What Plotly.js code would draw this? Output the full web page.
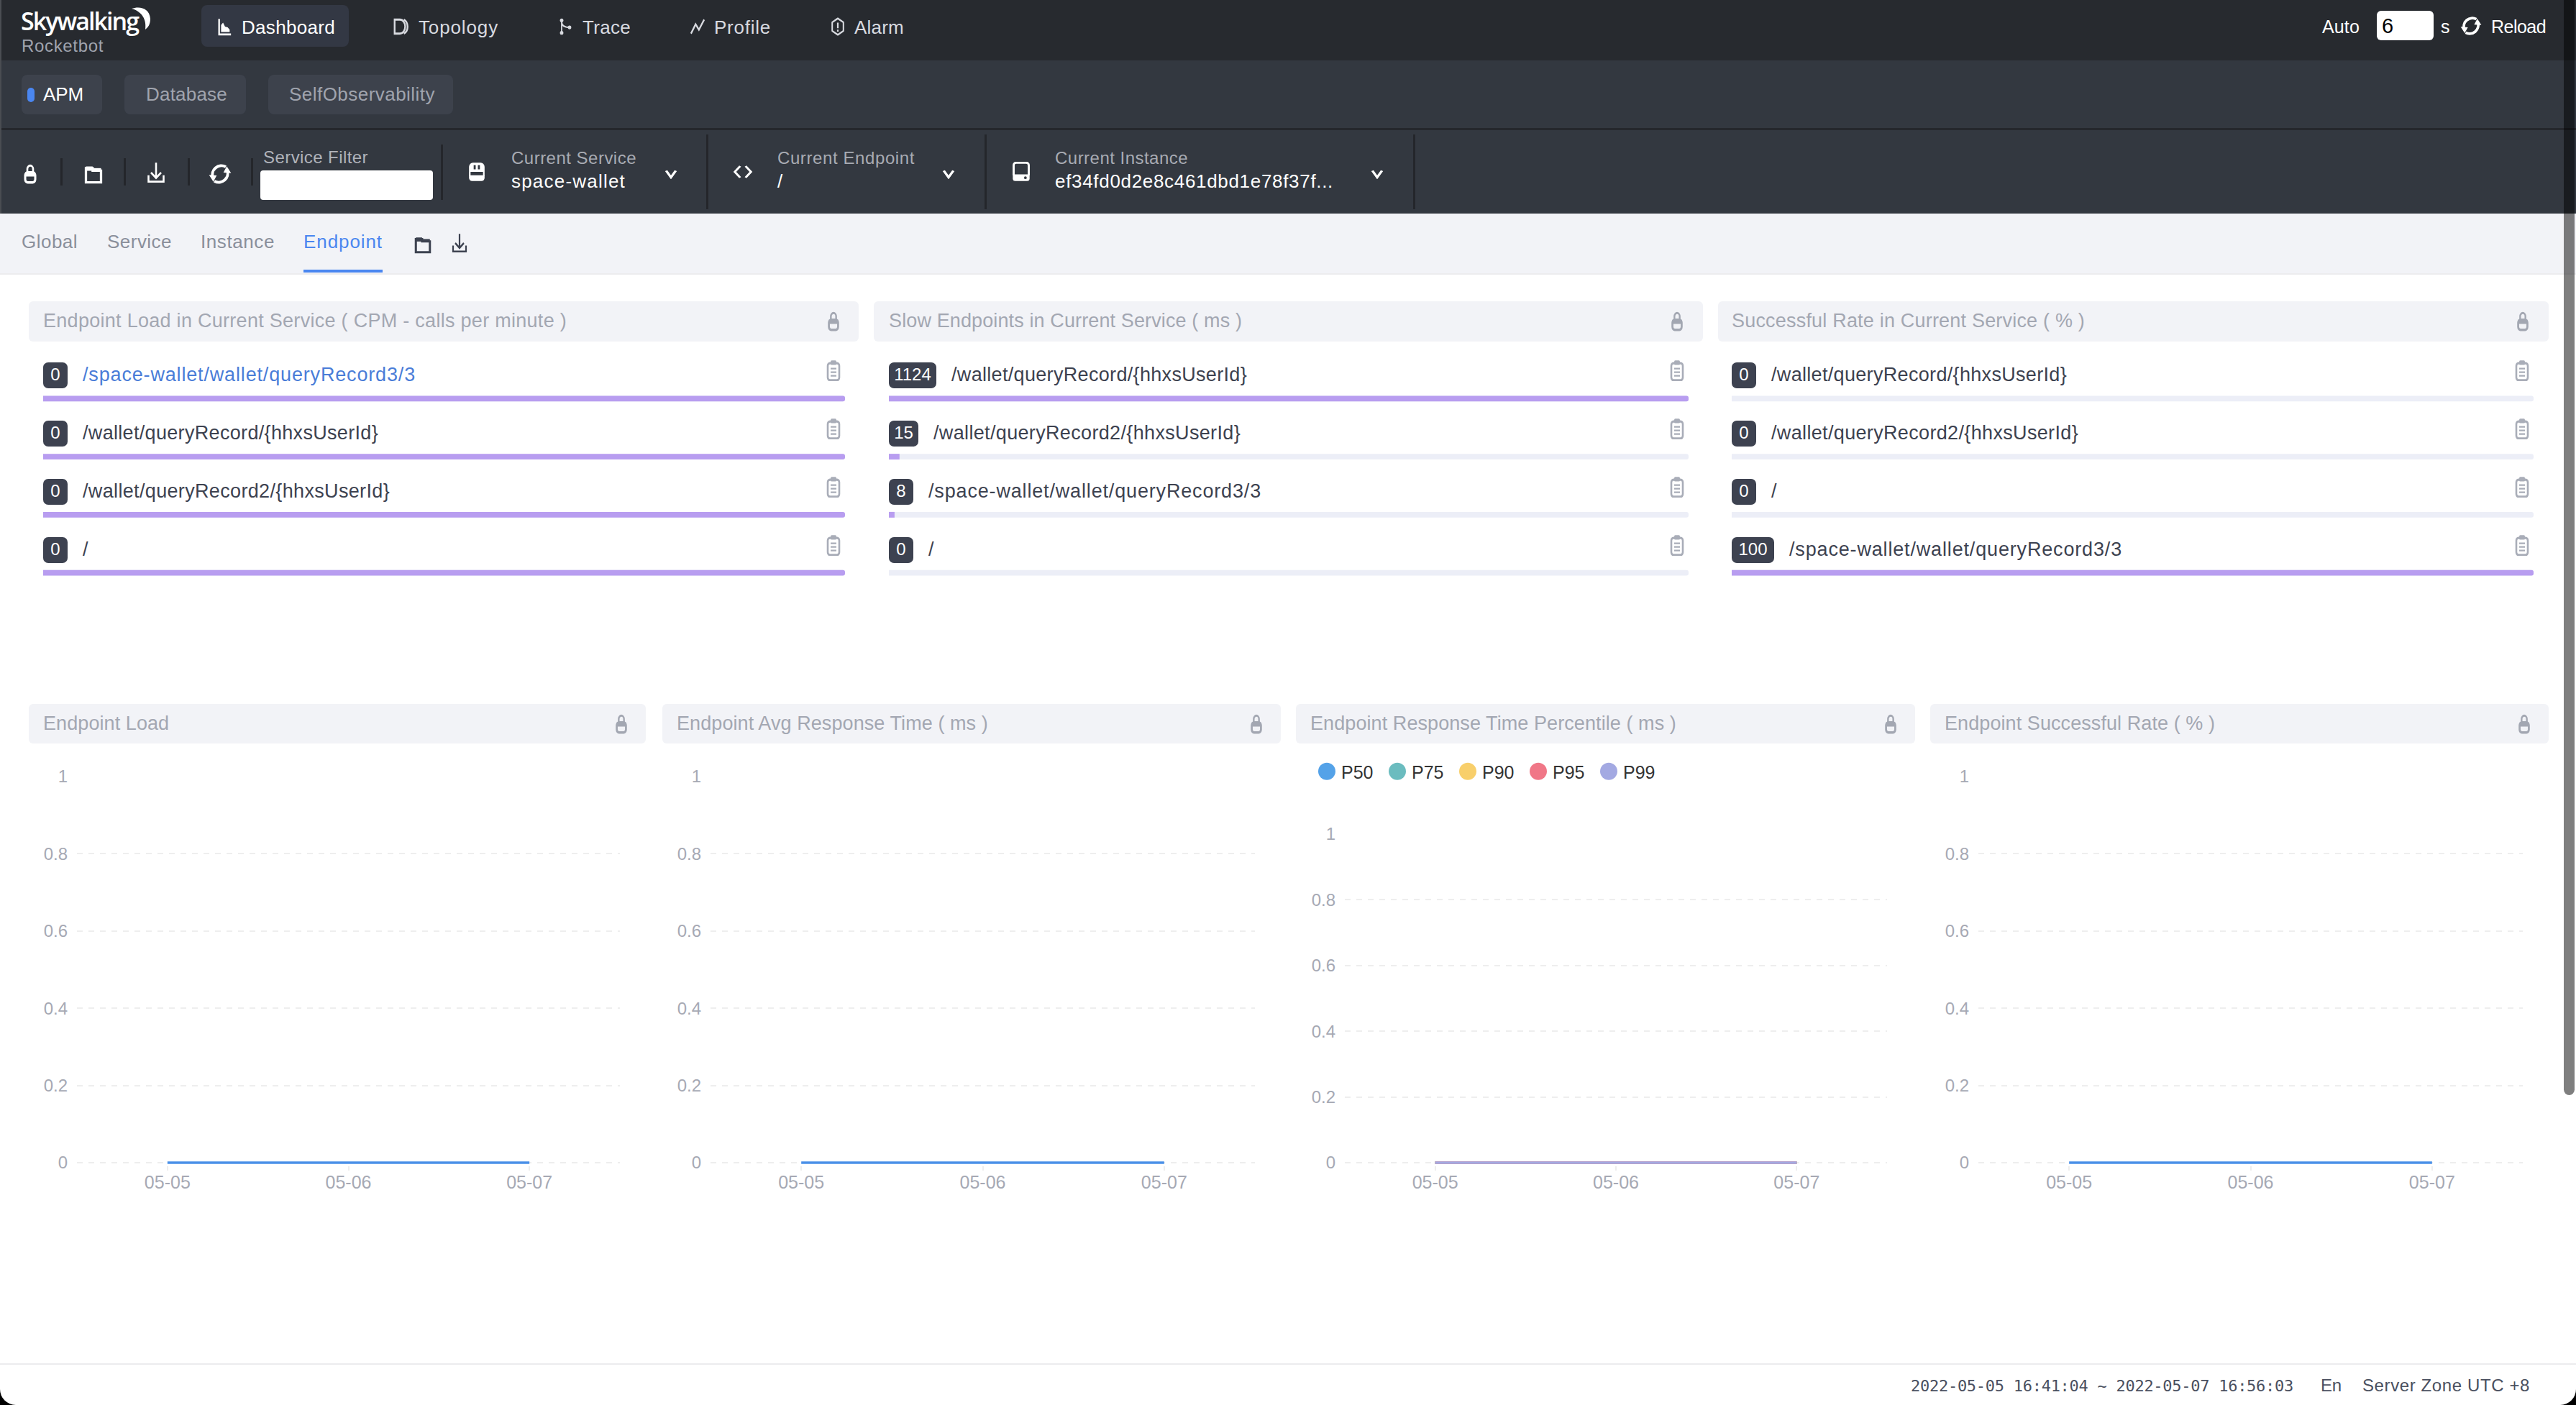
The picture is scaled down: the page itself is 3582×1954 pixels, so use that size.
<!DOCTYPE html>
<html>
<head>
<meta charset="utf-8">
<title>SkyWalking Rocketbot</title>
<script src="https://cdn.plot.ly/plotly-3.0.1.min.js"></script>
<style>
html,body{margin:0;padding:0;background:#000;width:3582px;height:1954px;overflow:hidden}
#page{position:absolute;left:0;top:0;width:3582px;height:1954px;background:#fff;overflow:hidden;border-radius:0 0 22px 22px;font-family:"Liberation Sans",sans-serif}
.b{position:absolute}
.t{position:absolute;white-space:nowrap}
.c{position:absolute}
</style>
</head>
<body>
<div id="page"></div>
<script>
// ---------- data ----------
const navItems = ["Dashboard","Topology","Trace","Profile","Alarm"];
const groupTabs = ["APM","Database","SelfObservability"];
const pageTabs = ["Global","Service","Instance","Endpoint"];
const currentService = "space-wallet";
const currentEndpoint = "/";
const currentInstance = "ef34fd0d2e8c461dbd1e78f37f...";
const timeRange = "2022-05-05 16:41:04 ~ 2022-05-07 16:56:03";

const loadTitle = "Endpoint Load in Current Service ( CPM - calls per minute )";
const loadNames = ["/space-wallet/wallet/queryRecord3/3","/wallet/queryRecord/{hhxsUserId}","/wallet/queryRecord2/{hhxsUserId}","/"];
const loadValues = [0,0,0,0];
const loadBarPercent = [100,100,100,100];

const slowTitle = "Slow Endpoints in Current Service ( ms )";
const slowNames = ["/wallet/queryRecord/{hhxsUserId}","/wallet/queryRecord2/{hhxsUserId}","/space-wallet/wallet/queryRecord3/3","/"];
const slowValues = [1124,15,8,0];
const slowBarPercent = [100,1.33,0.71,0];

const rateTitle = "Successful Rate in Current Service ( % )";
const rateNames = ["/wallet/queryRecord/{hhxsUserId}","/wallet/queryRecord2/{hhxsUserId}","/","/space-wallet/wallet/queryRecord3/3"];
const rateValues = [0,0,0,100];
const rateBarPercent = [0,0,0,100];

const days = ["05-05","05-06","05-07"];
const yTicks = [0,0.2,0.4,0.6,0.8,1];
const yTickLabels = ["0","0.2","0.4","0.6","0.8","1"];
const endpointLoad = [0,0,0];
const endpointAvgResponse = [0,0,0];
const endpointSuccessRate = [0,0,0];
const p50 = [0,0,0];
const p75 = [0,0,0];
const p90 = [0,0,0];
const p95 = [0,0,0];
const p99 = [0,0,0];
const percentileNames = ["P50","P75","P90","P95","P99"];
const percentileColors = ["#54a2e8","#6bbcbf","#f8cf6b","#f07787","#a3a9e2"];

// ---------- chrome helpers ----------
const page = document.getElementById('page');
const FONT = '"Liberation Sans",sans-serif';
const meas = document.createElement('canvas').getContext('2d');
function box(x,y,w,h,bg,r){
  const d=document.createElement('div');d.className='b';
  d.style.cssText=`left:${x}px;top:${y}px;width:${w}px;height:${h}px;background:${bg};border-radius:${r||0}px`;
  page.appendChild(d);return d;
}
function T(x,yc,s,size,color,o){
  o=o||{};
  const fam=o.family||FONT,wt=o.weight||'normal';
  const d=document.createElement('div');d.className='t';d.textContent=s;
  let ls=0;
  if(o.w){meas.font=`${wt} ${size}px ${fam}`;ls=(o.w-meas.measureText(s).width)/Math.max(1,s.length);}
  if(o.ls!==undefined)ls=o.ls;
  const lh=Math.round(size*(o.lh||1.4));
  d.style.cssText=`left:${x}px;top:${yc-lh/2}px;line-height:${lh}px;font-size:${size}px;color:${color};font-family:${fam};font-weight:${wt};letter-spacing:${ls}px`;
  if(o.center){d.style.transform='translateX(-50%)';}
  page.appendChild(d);return d;
}
const ICONS={
 lock:c=>`<rect x="5" y="10" width="14" height="12" rx="3.5" fill="none" stroke="${c}" stroke-width="3"/><rect x="5" y="10" width="14" height="5" fill="${c}"/><path d="M8 10V6a4 4 0 0 1 8 0v4" fill="none" stroke="${c}" stroke-width="2.6"/>`,
 folder:c=>`<path d="M3 5h8v3h10v14H3z" fill="none" stroke="${c}" stroke-width="2.8"/><path d="M3 3h8v5H3z" fill="${c}"/><rect x="3" y="5" width="18" height="3" fill="${c}"/>`,
 download:c=>`<path d="M12 1v17M6 12l6 6 6-6M3 15v7h18v-7" fill="none" stroke="${c}" stroke-width="2.2"/>`,
 reload:c=>`<path d="M18 4.5A9.5 9.5 0 0 0 4.5 16M6 19.5A9.5 9.5 0 0 0 19.5 8" fill="none" stroke="${c}" stroke-width="3"/><path d="M0.5 13l8 0.5-3.5 6.5zM23.5 11l-8-0.5 3.5-6.5z" fill="${c}"/>`,
 service:c=>`<path d="M7 1h10a5 5 0 0 1 5 5v6H2V6a5 5 0 0 1 5-5z" fill="${c}"/><rect x="8" y="4" width="2.6" height="5" fill="#333840"/><rect x="13.4" y="4" width="2.6" height="5" fill="#333840"/><path d="M2 16h20v3a4 4 0 0 1-4 4H6a4 4 0 0 1-4-4z" fill="${c}"/><path d="M3 12v5M21 12v5" stroke="${c}" stroke-width="2"/>`,
 code:c=>`<path d="M9 4l-6 8 6 8M15 4l6 8-6 8" fill="none" stroke="${c}" stroke-width="2.6"/>`,
 instance:c=>`<path d="M3 16V4a3 3 0 0 1 3-3h12a3 3 0 0 1 3 3v12" fill="none" stroke="${c}" stroke-width="2.5"/><path d="M2 15h20v5a3 3 0 0 1-3 3H5a3 3 0 0 1-3-3z" fill="${c}"/><circle cx="17" cy="19" r="1.6" fill="#333840"/>`,
 chevron:c=>`<path d="M4 4l8 16 8-16" fill="none" stroke="${c}" stroke-width="4.2"/>`,
 clipboard:c=>`<rect x="4" y="4" width="16" height="19" rx="3" fill="none" stroke="${c}" stroke-width="2.6"/><rect x="8" y="1" width="8" height="5" rx="1.5" fill="${c}"/><path d="M8 10h8M8 14h8M8 18h8" stroke="${c}" stroke-width="1.8"/>`,
 bars:c=>`<path d="M4 2v20h18" fill="none" stroke="${c}" stroke-width="2.5"/><path d="M7 19V10l3-3 3 5 4 1 3 3v3z" fill="${c}"/>`,
 topo:c=>`<path d="M3 3h8a8 9 0 0 1 0 18H3z" fill="none" stroke="${c}" stroke-width="2.6"/><path d="M17 3a10 10 0 0 1 0 18" fill="none" stroke="${c}" stroke-width="2.6"/>`,
 trace:c=>`<circle cx="7" cy="4" r="2.4" fill="${c}"/><circle cx="7" cy="20" r="2.4" fill="${c}"/><circle cx="18" cy="13" r="2.4" fill="${c}"/><path d="M7 4v16M7 6c0 6 6 7 11 7" fill="none" stroke="${c}" stroke-width="1.8"/>`,
 profile:c=>`<path d="M2 21l7-12 5 7 8-13" fill="none" stroke="${c}" stroke-width="2.4"/>`,
 alarm:c=>`<path d="M12 1.5l8.5 5v11l-8.5 5-8.5-5v-11z" fill="none" stroke="${c}" stroke-width="2.2" stroke-linejoin="round"/><path d="M12 7v7M12 16v2.5" stroke="${c}" stroke-width="2.4"/>`
};
function icon(name,cx,cy,w,h,color){
  const d=document.createElement('div');d.className='b';
  d.style.cssText=`left:${cx-w/2}px;top:${cy-h/2}px;width:${w}px;height:${h}px`;
  d.innerHTML=`<svg width="${w}" height="${h}" viewBox="0 0 24 24" preserveAspectRatio="none" xmlns="http://www.w3.org/2000/svg">${ICONS[name](color)}</svg>`;
  page.appendChild(d);
}

// ---------- header bands ----------
box(0,0,3582,84,'#272a2f');
box(0,84,3582,94,'#333840');
box(0,178,3582,3,'#25272c');
box(0,181,3582,116,'#333840');
box(0,297,3582,83,'#f2f3f7');
box(0,380,3582,2,'#ececee');
box(0,0,2,297,'#4a4d52');

// logo
T(29,29,"Skywalking",34,'#ffffff',{w:163,family:'"Open Sans",sans-serif',weight:600,lh:1.05});
const moon=document.createElement('div');moon.className='b';
moon.style.cssText='left:180px;top:8px;width:32px;height:34px';
moon.innerHTML='<svg width="32" height="34" viewBox="0 0 32 34"><path d="M3 4C14 0 28 3 29 18C29 26 26 30 22 33C24 20 18 8 3 4Z" fill="#fff"/></svg>';
page.appendChild(moon);
T(30,63,"Rocketbot",24,'#a0a4ae',{w:114,lh:1.05});

// nav
box(280,7,205,58,'#333844',8);
const navLeft=[336,582,810,993,1188], navW=[130,111,67,79,69], navIcon=['bars','topo','trace','profile','alarm'], navIconX=[312,557,786,970,1165];
navItems.forEach((n,i)=>{
  T(navLeft[i],38,n,26,i==0?'#ffffff':'#d8dae0',{w:navW[i]});
  icon(navIcon[i],navIconX[i],37,i==2?24:22,26,i==0?'#ffffff':'#d8dae0');
});
T(3229,37,"Auto",25,'#ffffff',{w:52});
box(3305,15,79,41,'#ffffff',6);
T(3312,36,"6",29,'#000000');
T(3394,37,"s",25,'#ffffff');
icon('reload',3436,36,30,30,'#ffffff');
T(3464,37,"Reload",25,'#ffffff',{w:76});

// group tabs
const grpX=[30,173,373],grpW=[112,169,257],grpTx=[60,203,402],grpTw=[56,113,203];
groupTabs.forEach((n,i)=>{
  box(grpX[i],104,grpW[i],55,'#3d424c',8);
  T(grpTx[i],131,n,26,i==0?'#ffffff':'#a0a4ae',{w:grpTw[i]});
});
box(38,122,10,20,'#4a86f0',5);

// toolbar
[[85,220,38],[173,220,38],[262,220,38],[350,220,38],[614,201,77],[983,187,104],[1370,187,104],[1966,187,104]].forEach(s=>box(s[0]-1.5,s[1],3,s[2],'#24262b'));
icon('lock',42,242,24,28,'#ffffff');
icon('folder',130,242,28,28,'#ffffff');
icon('download',217,240,28,30,'#ffffff');
icon('reload',306,242,32,32,'#ffffff');
T(366,219,"Service Filter",24,'#b0b3ba',{w:146});
box(362,237,240,41,'#ffffff',4);
icon('service',663,239,26,28,'#ffffff');
T(711,220,"Current Service",24,'#a8abb3',{w:174});
T(711,252,currentService,26,'#ffffff',{w:159});
icon('chevron',933,242,20,14,'#ffffff');
icon('code',1033,239,30,24,'#ffffff');
T(1081,220,"Current Endpoint",24,'#a8abb3',{w:191});
T(1081,252,currentEndpoint,26,'#ffffff');
icon('chevron',1319,242,20,14,'#ffffff');
icon('instance',1420,239,28,28,'#ffffff');
T(1467,220,"Current Instance",24,'#a8abb3',{w:185});
T(1467,252,currentInstance,26,'#ffffff',{w:387});
icon('chevron',1915,242,20,14,'#ffffff');

// page tabs
const tabX=[30,149,279,422],tabW=[78,90,103,110];
pageTabs.forEach((n,i)=>T(tabX[i],336,n,26,i==3?'#4a86f0':'#8a8f9b',{w:tabW[i]}));
box(422,375,110,4,'#4a86f0');
icon('folder',588,340,26,26,'#3d4250');
icon('download',639,338,24,28,'#3d4250');

// ---------- top lists ----------
const listPanels=[
 {x0:40,x1:1194,bx0:60,bx1:1175,title:loadTitle,titleW:728,names:loadNames,vals:loadValues,pct:loadBarPercent,id:'list1',lock:1159},
 {x0:1215,x1:2368,bx0:1236,bx1:2348,title:slowTitle,titleW:491,names:slowNames,vals:slowValues,pct:slowBarPercent,id:'list2',lock:2332},
 {x0:2389,x1:3544,bx0:2408,bx1:3523,title:rateTitle,titleW:491,names:rateNames,vals:rateValues,pct:rateBarPercent,id:'list3',lock:3508}
];
const rowY=[522,603,684,765], badgeW={'0':34,'8':34,'15':41,'100':59,'1124':66};
const nameW={[loadNames[0]]:463,[loadNames[1]]:411,[loadNames[2]]:427};
listPanels.forEach(p=>{
  box(p.x0,419,p.x1-p.x0,56,'#f2f3f7',6);
  T(p.bx0,446,p.title,27,'#a3a7b2',{w:p.titleW});
  icon('lock',p.lock,447,22,28,'#a3a7b2');
  const div=document.createElement('div');div.className='c';div.id=p.id;
  div.style.cssText=`left:${p.x0}px;top:500px;width:${p.x1-p.x0}px;height:340px`;
  page.appendChild(div);
  p.names.forEach((n,i)=>{
    const bw=badgeW[String(p.vals[i])];
    box(p.bx0,rowY[i]-18,bw,36,'#3d4250',7);
    T(p.bx0+bw/2,rowY[i]-1,String(p.vals[i]),24,'#ffffff',{center:true});
    const o=nameW[n]?{w:nameW[n]}:{};
    T(p.bx0+bw+21,rowY[i]-1,n,27,(p.id=='list1'&&i==0)?'#4a7dd8':'#3d4250',o);
    icon('clipboard',p.bx1-16,rowY[i]-7,24,30,'#a9adb8');
  });
  const idx=p.names.map((_,i)=>i);
  Plotly.newPlot(div,[
    {type:'bar',orientation:'h',y:idx,x:idx.map(()=>100),width:8/81,marker:{color:'#eceef7',cornerradius:4},hoverinfo:'skip',showlegend:false},
    {type:'bar',orientation:'h',y:idx,x:p.pct,width:8/81,marker:{color:'#b89df0',cornerradius:4},hoverinfo:'skip',showlegend:false}
  ],{
    width:p.x1-p.x0,height:340,barmode:'overlay',showlegend:false,
    margin:{l:p.bx0-p.x0,r:p.x1-p.bx1,t:13.5,b:2.5,pad:0},
    paper_bgcolor:'rgba(0,0,0,0)',plot_bgcolor:'rgba(0,0,0,0)',
    xaxis:{range:[0,100],visible:false,fixedrange:true},
    yaxis:{range:[3.5,-0.5],visible:false,fixedrange:true}
  },{staticPlot:true,displayModeBar:false});
});

// ---------- line charts ----------
const charts=[
 {x0:40,x1:898,title:"Endpoint Load",id:'c1',plotTop:1080,series:[{name:'Load',y:endpointLoad,c:'#4a90e8'}]},
 {x0:921,x1:1781,title:"Endpoint Avg Response Time ( ms )",id:'c2',plotTop:1080,series:[{name:'Avg',y:endpointAvgResponse,c:'#4a90e8'}]},
 {x0:1802,x1:2663,title:"Endpoint Response Time Percentile ( ms )",id:'c3',plotTop:1160,legend:true,
   series:[p50,p75,p90,p95,p99].map((y,i)=>({name:percentileNames[i],y:y,c:percentileColors[i]}))},
 {x0:2684,x1:3544,title:"Endpoint Successful Rate ( % )",id:'c4',plotTop:1080,series:[{name:'Rate',y:endpointSuccessRate,c:'#4a90e8'}]}
];
const DIVTOP=1040, DIVH=650, AXIS0=1617, BELOW=4;
charts.forEach(ch=>{
  box(ch.x0,979,ch.x1-ch.x0,55,'#f2f3f7',6);
  T(ch.x0+20,1006,ch.title,27,'#a3a7b2',{ls:0.08});
  icon('lock',ch.x1-34,1007,22,28,'#a3a7b2');
  const div=document.createElement('div');div.className='c';div.id=ch.id;
  const W=ch.x1-ch.x0;
  div.style.cssText=`left:${ch.x0}px;top:${DIVTOP}px;width:${W}px;height:${DIVH}px`;
  page.appendChild(div);
  const traces=ch.series.map(s=>({type:'scatter',mode:'lines',x:days,y:s.y,name:s.name,
     line:{color:s.c,width:3.5},hoverinfo:'skip',showlegend:false}));
  const l=ch.legend?68:67, r=ch.legend?39:36;
  const plotH=AXIS0-ch.plotTop;
  const layout={
    width:W,height:DIVH,showlegend:!!ch.legend,
    margin:{l:l,r:r,t:ch.plotTop-DIVTOP,b:DIVTOP+DIVH-AXIS0-BELOW,pad:0},
    paper_bgcolor:'rgba(0,0,0,0)',plot_bgcolor:'rgba(0,0,0,0)',
    font:{family:FONT},
    xaxis:{type:'category',categoryorder:'array',categoryarray:days,range:[-0.5,2.5],fixedrange:true,
      showgrid:false,zeroline:false,showline:false,ticks:'outside',ticklen:6,tickwidth:2,tickcolor:'#eeeeee',
      tickfont:{size:25,color:'#a6a9b4',family:FONT},ticklabelstandoff:-5},
    yaxis:{range:[-BELOW/plotH,1],fixedrange:true,tickmode:'array',tickvals:yTicks,ticktext:yTickLabels,
      showgrid:true,gridcolor:'#eeeeee',gridwidth:2,griddash:'8px,8px',zeroline:false,showline:false,ticks:'',
      tickfont:{size:24,color:'#a6a9b4',family:FONT},ticklabelstandoff:12}
  };
  if(ch.legend){
    percentileNames.forEach((n,i)=>traces.push({type:'scatter',mode:'markers',x:[null],y:[null],name:n,
      marker:{color:percentileColors[i],size:16,symbol:'circle'},hoverinfo:'skip',showlegend:true}));
    layout.legend={orientation:'h',xref:'container',yref:'container',x:(1825-ch.x0)/W,xanchor:'left',y:1-10/DIVH,yanchor:'top',
      font:{size:25,color:'#333333',family:FONT},entrywidth:53,entrywidthmode:'pixels',itemwidth:30,bgcolor:'rgba(0,0,0,0)',traceorder:'normal'};
  }
  Plotly.newPlot(div,traces,layout,{staticPlot:true,displayModeBar:false}).then(()=>{
    div.querySelectorAll('.legendpoints path.scatterpts').forEach(pt=>{
      pt.setAttribute('transform',(pt.getAttribute('transform')||'')+' scale(1.5)');
    });
  });
});

// ---------- footer ----------
box(0,1896,3582,2,'#ececee');
T(2657,1927,timeRange,22,'#4a5060',{family:'"DejaVu Sans Mono",monospace',w:532});
T(3227,1927,"En",24,'#4a5060',{w:29});
T(3285,1927,"Server Zone UTC +8",24,'#4a5060',{w:233});

// ---------- scrollbar ----------
const sb=document.createElement('div');sb.className='b';
sb.style.cssText='left:3565px;top:-10px;width:15px;height:1533px;background:rgba(0,0,0,0.5);border-radius:8px';
page.appendChild(sb);
</script>
</body>
</html>
